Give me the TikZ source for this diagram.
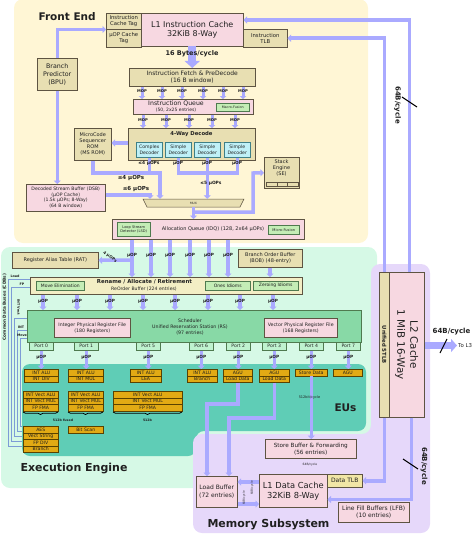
\documentclass[tikz,border=0pt]{standalone}
\usepackage{fontspec}
\setmainfont{DejaVu Sans}
\usetikzlibrary{arrows.meta,decorations.pathreplacing,calc}
\definecolor{fecol}{HTML}{FFF6D5}
\definecolor{eecol}{HTML}{D6F9E6}
\definecolor{eucol}{HTML}{5FCDB6}
\definecolor{mscol}{HTML}{E6D8FA}
\definecolor{tanc}{HTML}{E8DFB2}
\definecolor{renc}{HTML}{F3EEC5}
\definecolor{pinkc}{HTML}{F7D8E1}
\definecolor{greenc}{HTML}{C4EDB6}
\definecolor{grnbdr}{HTML}{4F7A4F}
\definecolor{schc}{HTML}{88D9A6}
\definecolor{portc}{HTML}{BFF2CF}
\definecolor{cyanc}{HTML}{BFF0F7}
\definecolor{cyanbdr}{HTML}{3F7F86}
\definecolor{goldc}{HTML}{E2AA14}
\definecolor{eubdr}{HTML}{5A4200}
\definecolor{lavc}{HTML}{AAAAFF}
\definecolor{bdr}{HTML}{5E5442}
\definecolor{txtc}{HTML}{202020}
\definecolor{dtlbc}{HTML}{F1E6A6}
\definecolor{cdbc}{HTML}{7D9BD6}
\newcommand\fz[2]{\fontsize{#1}{#2}\selectfont}
\newcommand\bx[7]{\node[#1,anchor=north west,minimum width=#5pt,minimum height=#6pt] (#2) at (#3,#4) {#7};}
\begin{document}
\begin{tikzpicture}[x=1pt,y=-1pt,
 every node/.style={text=txtc},
 bxs/.style={draw=bdr,line width=0.5pt,inner sep=0.3pt,align=center},
 tanb/.style={bxs,fill=tanc},
 renb/.style={bxs,fill=renc},
 pinkb/.style={bxs,fill=pinkc},
 greenb/.style={bxs,fill=greenc,draw=grnbdr},
 cyanb/.style={bxs,fill=cyanc,draw=cyanbdr},
 portb/.style={bxs,fill=portc,draw=grnbdr},
 schb/.style={bxs,fill=schc,draw=grnbdr},
 dtlbb/.style={bxs,fill=dtlbc},
 eub/.style={bxs,fill=goldc,draw=eubdr,font=\fz{4.6}{5}},
 lav/.style={draw=lavc,line width=3.5pt},
 lavar/.style={lav,-{Triangle[width=7pt,length=3.5pt]}},
 lavsm/.style={draw=lavc,line width=3pt,-{Triangle[width=6.5pt,length=3pt]}},
 lbl/.style={font=\bfseries\fz{4.3}{5},inner sep=0pt},
 lblm/.style={font=\bfseries\fz{3.8}{4},inner sep=0pt},
 tickm/.style={draw=black,line width=1pt},
 brc/.style={decorate,decoration={brace,amplitude=2.5pt,mirror},line width=0.8pt},
 cdb/.style={draw=cdbc,line width=0.6pt}]
\useasboundingbox (0,0) rectangle (474,535);
% ---------- backgrounds
\fill[fecol,rounded corners=9pt] (14,-1) rectangle (368,243);
\fill[eecol,rounded corners=9pt] (1,247) rectangle (377,488);
\fill[eucol,rounded corners=8pt] (22,364) -- (366,364) -- (366,431) -- (196,431) -- (196,456) -- (22,456) -- cycle;
\fill[mscol,rounded corners=9pt] (371,264) -- (430,264) -- (430,533) -- (193,533) -- (193,434) -- (371,434) -- cycle;
% ---------- Front End
\node[font=\bfseries\fz{10.5}{12},anchor=west] (fetitle) at (35,17) {Front End};
\bx{tanb,font=\fz{5.3}{5.9}}{ictag}{106}{13}{35}{16}{Instruction\\Cache Tag}
\bx{tanb,font=\fz{5.3}{5.9}}{uctag}{106}{29}{35}{18}{µOP Cache\\Tag}
\bx{pinkb,font=\fz{8}{9.5}}{l1i}{141}{13}{102}{33}{L1 Instruction Cache\\32KiB 8-Way}
\bx{tanb,font=\fz{5.3}{6}}{itlb}{243}{29}{44}{18}{Instruction\\TLB}
\bx{tanb,font=\fz{6.3}{7.8}}{bpu}{37}{58}{40}{32}{Branch\\Predictor\\(BPU)}
\bx{tanb,font=\fz{6}{7.2}}{fetch}{129}{68}{126}{18}{Instruction Fetch \& PreDecode\\(16 B window)}
\bx{pinkb}{iq}{133}{99}{120}{15}{}
\node[align=center,font=\fz{6.2}{6}] (iqt) at (176,106.5) {Instruction Queue\\{\fz{4.5}{5}(50, 2x25 entries)}};
\bx{greenb,font=\fz{3.3}{4}}{mfu}{216}{103}{33}{8}{Macro-Fusion}
\bx{tanb}{dec}{128}{128}{127}{32}{}
\node[font=\bfseries\fz{5.3}{6}] (dect) at (191.5,134.5) {4-Way Decode};
\bx{cyanb,font=\fz{4.6}{5.3}}{cdec}{136}{142}{26}{15}{Complex\\Decoder}
\bx{cyanb,font=\fz{4.6}{5.3}}{sd1}{165}{142}{26}{15}{Simple\\Decoder}
\bx{cyanb,font=\fz{4.6}{5.3}}{sd2}{194}{142}{26}{15}{Simple\\Decoder}
\bx{cyanb,font=\fz{4.6}{5.3}}{sd3}{224}{142}{26}{15}{Simple\\Decoder}
\bx{tanb,font=\fz{5}{6}}{msrom}{74}{128}{37}{32}{MicroCode\\Sequencer\\ROM\\(MS ROM)}
\bx{pinkb,font=\fz{4.6}{5.6}}{dsb}{26}{184}{79}{27}{Decoded Stream Buffer (DSB)\\(µOP Cache)\\(1.5k µOPs; 8-Way)\\(64 B window)}
\filldraw[fill=tanc,draw=bdr,line width=0.5pt] (143,199) -- (244,199) -- (240,207) -- (147,207) -- cycle;
\node[minimum width=97pt,minimum height=8pt,inner sep=0pt,font=\fz{3}{3}] (mux) at (193.5,203) {MUX};
\bx{tanb}{se}{264}{157}{35}{31}{}
\node[align=center,font=\fz{5}{6}] (set) at (281.5,168) {Stack\\Engine\\(SE)};
\bx{tanb}{sea}{266}{181.5}{10.5}{4}{}
\bx{tanb}{seb}{276.5}{181.5}{10.5}{4}{}
\bx{tanb}{sec}{287}{181.5}{10.5}{4}{}
\bx{pinkb}{idq}{112}{219}{192}{20}{}
\node[font=\fz{5}{6}] (idqt) at (213,229) {Allocation Queue (IDQ) (128, 2x64 µOPs)};
\bx{greenb,font=\fz{3.6}{4.4}}{lsd}{117}{222}{33}{14}{Loop Stream\\Detector (LSD)}
\bx{greenb,font=\fz{3.6}{4}}{mifu}{268}{225}{31}{9}{Micro-Fusion}
% ---------- Execution Engine
\bx{tanb,font=\fz{5}{6}}{rat}{12}{252}{86}{16}{Register Alias Table (RAT)}
\bx{tanb,font=\fz{5}{6}}{bob}{238}{249}{64}{18}{Branch Order Buffer\\(BOB) (48-entry)}
\bx{renb}{ren}{30}{277}{272}{17}{}
\node[font=\bfseries\fz{5.4}{6}] (rent) at (144.5,282) {Rename / Allocate / Retirement};
\node[font=\fz{4.6}{5}] (rent2) at (144,289) {ReOrder Buffer (224 entries)};
\bx{greenb,font=\fz{4.5}{5}}{mel}{36}{281}{48}{9}{Move Elimination}
\bx{greenb,font=\fz{4.5}{5}}{ones}{205}{281}{45}{9}{Ones Idioms}
\bx{greenb,font=\fz{4.5}{5}}{zero}{253}{281}{45}{9}{Zeroing Idioms}
\bx{schb}{sch}{27}{310}{334}{32}{}
\node[align=center,font=\fz{4.7}{6}] (scht) at (190,327) {Scheduler\\Unified Reservation Station (RS)\\(97 entries)};
\bx{pinkb,font=\fz{4.7}{6}}{iprf}{54}{318}{76}{19}{Integer Physical Register File\\(180 Registers)}
\bx{pinkb,font=\fz{4.7}{6}}{vprf}{264}{318}{73}{19}{Vector Physical Register File\\(168 Registers)}
\foreach \n/\xx in {0/29,1/74,5/136,6/189,2/226,3/262,4/299,7/336}{
  \bx{portb,font=\fz{4.6}{5}}{p\n}{\xx}{342}{24}{8}{Port \n}}
\bx{eub}{e0a}{24}{369}{34}{6.5}{INT ALU}
\bx{eub}{e0b}{24}{375.5}{34}{6.5}{INT DIV}
\bx{eub}{e1a}{68}{369}{35}{6.5}{INT ALU}
\bx{eub}{e1b}{68}{375.5}{35}{6.5}{INT MUL}
\bx{eub}{e5a}{130}{369}{31}{6.5}{INT ALU}
\bx{eub}{e5b}{130}{375.5}{31}{6.5}{LEA}
\bx{eub}{e6a}{187}{369}{30}{6.5}{INT ALU}
\bx{eub}{e6b}{187}{375.5}{30}{6.5}{Branch}
\bx{eub}{e2a}{223}{369}{29}{6.5}{AGU}
\bx{eub}{e2b}{223}{375.5}{29}{6.5}{Load Data}
\bx{eub}{e3a}{259}{369}{30}{6.5}{AGU}
\bx{eub}{e3b}{259}{375.5}{30}{6.5}{Load Data}
\bx{eub}{e4a}{295}{369}{32}{6.5}{Store Data}
\bx{eub}{e7a}{333}{369}{29}{6.5}{AGU}
\bx{eub}{v0a}{23}{391}{35}{6.5}{INT Vect ALU}
\bx{eub}{v0b}{23}{397.5}{35}{6.5}{INT Vect MUL}
\bx{eub}{v0c}{23}{404}{35}{6.5}{FP FMA}
\bx{eub}{v1a}{68}{391}{35}{6.5}{INT Vect ALU}
\bx{eub}{v1b}{68}{397.5}{35}{6.5}{INT Vect MUL}
\bx{eub}{v1c}{68}{404}{35}{6.5}{FP FMA}
\bx{eub}{v5a}{113}{391}{69}{6.5}{INT Vect ALU}
\bx{eub}{v5b}{113}{397.5}{69}{6.5}{INT Vect MUL}
\bx{eub}{v5c}{113}{404}{69}{6.5}{FP FMA}
\bx{eub}{b0a}{23}{426}{35}{6.5}{AES}
\bx{eub}{b0b}{23}{432.5}{35}{6.5}{Vect String}
\bx{eub}{b0c}{23}{439}{35}{6.5}{FP DIV}
\bx{eub}{b0d}{23}{445.5}{35}{6.5}{Branch}
\bx{eub}{b1a}{68}{426}{35}{6.5}{Bit Scan}
\draw[brc] (23,412) -- (58,412);
\draw[brc] (68,412) -- (103,412);
\draw[brc] (113,412) -- (182,412);
\node[font=\bfseries\fz{3.2}{4}] (f512) at (63,420) {512b fused};
\node[font=\bfseries\fz{3.2}{4}] (v512) at (147.5,420) {512b};
\node[font=\bfseries\fz{10.5}{12},anchor=west] (eus) at (331,408) {EUs};
\node[font=\bfseries\fz{11}{12},anchor=west] (eetitle) at (17,469) {Execution Engine};
% ---------- Memory subsystem
\bx{pinkb,font=\fz{5.7}{7}}{sb}{265}{439}{91}{19}{Store Buffer \& Forwarding\\(56 entries)}
\bx{pinkb,font=\fz{6}{7.3}}{lb}{196}{476}{41}{31}{Load Buffer\\(72 entries)}
\bx{pinkb,font=\fz{8.3}{10}}{l1d}{259}{474}{68}{33}{L1 Data Cache\\32KiB 8-Way}
\bx{dtlbb,font=\fz{6}{7}}{dtlb}{327}{474}{35}{13}{Data TLB}
\bx{pinkb,font=\fz{6}{7.3}}{lfb}{338}{502}{71}{20}{Line Fill Buffers (LFB)\\(10 entries)}
\bx{tanb}{stlb}{379}{272}{10}{145}{}
\node[rotate=-90,font=\bfseries\fz{5.3}{6}] (stlbt) at (stlb.center) {Unified STLB};
\bx{pinkb}{l2}{389}{272}{35}{145}{}
\node[rotate=-90,align=center,font=\fz{10.3}{13}] (l2t) at (l2.center) {L2 Cache\\1 MiB 16-Way};
\node[font=\bfseries\fz{11}{12},anchor=west] (mstitle) at (204,525) {Memory Subsystem};
% ---------- connectors: front end
\draw[lavar] (bpu.north) |- (ictag.south west);
\draw[lavar] (bpu.south) -- (bpu.south |- dsb.north);
\draw[lavar] ([xshift=2.5pt]l2.north) |- (l1i.east |- 0,20);
\draw[lavar] (stlb.north) |- (itlb.east);
\draw[lavc,line width=8pt,-{Triangle[width=15pt,length=7pt]}] (l1i.south) -- (fetch.north);
\node[font=\bfseries\fz{6.5}{7}] (bw16) at (192,54) {16 Bytes/cycle};
\foreach \xx in {142,162,182,203,223,243}{
  \draw[lavsm] (fetch.south -| \xx,0) -- (iq.north -| \xx,0);
  \node[lblm] at (\xx,91.5) {MOP};}
\foreach \xx in {143,166,189,212,235}{
  \draw[lavsm] (iq.south -| \xx,0) -- (dec.north -| \xx,0);
  \node[lblm] at (\xx,120.5) {MOP};}
\draw[lavar] (dec.west |- 0,143) -- (msrom.east |- 0,143);
\draw[lavar] (msrom.south) |- (160,173) -- (mux.north -| 160,0);
\draw[lav] (cdec.south) -- (cdec.south |- 0,173);
\draw[lav] (sd1.south) |- (sd3.south |- 0,173) -- (sd3.south);
\draw[lavar] (sd2.south) -- (sd2.south |- mux.north);
\draw[lavar] (dsb.east |- 0,195) -| (mux.north -| 150,0);
\draw[lavar] (mux.south |- 0,212) -| (253,173) -- (se.west);
\draw[lavar] (mux.south) -- (mux.south |- idq.north);
\node[font=\bfseries\fz{4.4}{5}] at (149,163.5) {≤4 µOPs};
\node[lbl] at (178,163.5) {µOP};
\node[lbl] at (207,163.5) {µOP};
\node[lbl] at (237,163.5) {µOP};
\node[font=\bfseries\fz{5.5}{6}] at (131,178.5) {≤4 µOPs};
\node[font=\bfseries\fz{5.5}{6}] at (136,189) {≤6 µOPs};
\node[font=\bfseries\fz{4.4}{5}] at (211,183) {≤5 µOPs};
% ---------- connectors: execution
\foreach \xx in {132,151,170,190,209,228}{
  \draw[lavar] (idq.south -| \xx,0) -- (ren.north -| \xx,0);
  \node[lbl] at (\xx,255) {µOP};}
\draw[lavar] (bob.south -| 270,0) -- (ren.north -| 270,0);
\draw[lavar] (132,260) -- (rat.east);
\node[font=\bfseries\fz{4}{5},rotate=-35] at (110,257) {4 µOPs};
\foreach \xx in {43,77,110,143,175,208,240,273}{
  \draw[lavar] (ren.south -| \xx,0) -- (sch.north -| \xx,0);
  \node[lbl] at (\xx,301.5) {µOP};}
\foreach \n in {0,1,5,6,2,3,4,7}{
  \draw[lavar] (p\n.south) -- (p\n.south |- e0a.north);
  \node[lbl] at (p\n.south |- 0,357) {µOP};}
% CDBs
\draw[cdb] (22,446) -| (8,279) -- (ren.west |- 0,279);
\draw[cdb] (22,441) -| (11,287) -- (ren.west |- 0,287);
\draw[cdb] (22,436) -| (14,318) -- (sch.west |- 0,318);
\draw[cdb] (22,431) -| (17,330) -- (sch.west |- 0,330);
\draw[cdb] (22,426) -| (20,338) -- (sch.west |- 0,338);
\node[rotate=90,font=\bfseries\fz{4.2}{5}] (cdbt) at (4.5,307) {Common Data Buses (CDBs)};
\node[font=\bfseries\fz{3.3}{4}] at (15,276) {Load};
\node[font=\bfseries\fz{3.3}{4}] at (22,284.5) {FP};
\node[rotate=-90,font=\bfseries\fz{3.3}{4}] at (18.5,307) {INT Vect};
\node[font=\bfseries\fz{3.3}{4}] at (21,327) {INT};
\node[font=\bfseries\fz{3.3}{4}] at (22,335) {Move};
% ---------- connectors: memory
\draw[lavar] (e4a.south) -- (e4a.south |- sb.north);
\node[font=\fz{3.5}{4}] (b512) at (309.5,398) {512bit/cycle};
\draw[lavar] (e2b.south) |- (207,404) -- (lb.north -| 207,0);
\draw[lavar] (e3b.south) |- (229,418) -- (lb.north -| 229,0);
\draw[lavar] (l1d.west |- 0,482) -- (lb.east |- 0,482);
\draw[lavar] (lb.east |- 0,504) -- (l1d.west |- 0,504);
\node[rotate=90,font=\fz{2.8}{3}] at (252,488) {64B/cycle};
\node[rotate=90,font=\fz{2.8}{3}] at (244,498) {64B/cycle};
\node[font=\fz{3}{3.5}] at (310,465) {64B/cycle};
\draw[lavar] (stlb.south) |- (dtlb.east);
\draw[lavar] ([xshift=4.5pt]l2.south) |- (l1d.east |- 0,499.5);
\draw[lavc,line width=6.5pt,-{Triangle[width=13pt,length=6pt]}] (l2.east |- 0,345.5) -- (457,345.5);
\node[font=\fz{5.4}{6},anchor=west,inner sep=0.5pt] (tol3) at (457.5,345.5) {To L3};
\node[font=\bfseries\fz{7}{8}] at (451.5,332) {64B/cycle};
\draw[tickm] (440,353) -- (447,339);
\node[rotate=-90,font=\bfseries\fz{7}{8}] at (397.5,105) {64B/cycle};
\draw[tickm] (402,97) -- (417,107);
\node[rotate=-90,font=\bfseries\fz{7}{8}] at (424,466) {64B/cycle};
\draw[tickm] (403,459) -- (418,469);
\end{tikzpicture}
\end{document}
